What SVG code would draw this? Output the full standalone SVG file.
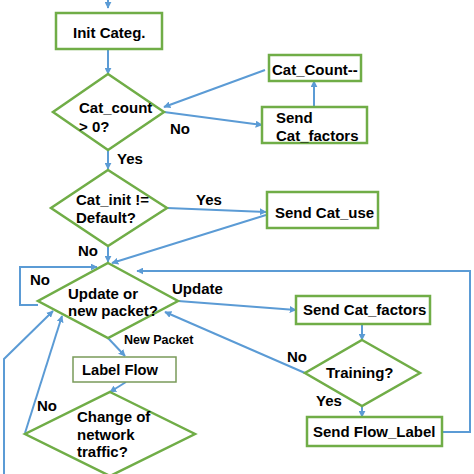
<svg xmlns="http://www.w3.org/2000/svg" width="474" height="474" viewBox="0 0 474 474">
<defs>
<marker id="ah" viewBox="0 0 10 10" refX="9" refY="5" markerWidth="7" markerHeight="7" markerUnits="userSpaceOnUse" orient="auto">
<path d="M0,0 L10,5 L0,10 z" fill="#5b9bd5"/>
</marker>
<style>
.n{fill:#fff;stroke:#70ad47;stroke-width:2.5}
.thin{fill:#fff;stroke:#7a9a5a;stroke-width:1.5}
.c{fill:none;stroke:#5b9bd5;stroke-width:2;marker-end:url(#ah)}
text{font-family:"Liberation Sans",Arial,sans-serif;font-weight:bold;font-size:15px;fill:#000}
.s{font-size:12.5px}
.r{font-size:14.7px}
</style>
</defs>
<g id="connectors">
<path class="c" d="M108,0 V8"/>
<path class="c" d="M108,49 V74"/>
<path class="c" d="M265,70 L164,107"/>
<path class="c" d="M314,107 V81"/>
<path class="c" d="M164,112 L262,125"/>
<path class="c" d="M108,150 V169"/>
<path class="c" d="M167,208 L266,212"/>
<path class="c" d="M108,246 V262"/>
<path class="c" d="M266,215 L112,263"/>
<path class="c" d="M38,305 H20 V267 H97"/>
<path class="c" d="M178,301 L296,310"/>
<path class="c" d="M362,324 V340"/>
<path class="c" d="M305,373 L165,312"/>
<path class="c" d="M362,406 V417"/>
<path class="c" d="M442,432 H470 V271 H137"/>
<path class="c" d="M108,338 L125,356"/>
<path class="c" d="M126,382 L110,392"/>
<path class="c" d="M25,433 L62,316"/>
<path class="c" d="M4,474 V359 L53,311"/>
</g>
<g id="init"><rect class="n" x="56" y="13" width="106" height="36"/><text x="73" y="38">Init Categ.</text></g>
<g id="catcount"><path class="n" d="M108,74 L164,112 L108,150 L53,112 Z"/><text x="79" y="113">Cat_count</text><text x="79" y="132">&gt; 0?</text></g>
<g id="catcountdec"><rect class="n" x="269" y="55" width="92" height="26"/><text x="272" y="75">Cat_Count--</text></g>
<g id="sendcatfactors1"><rect class="n" x="262" y="107" width="105" height="36"/><text x="276" y="123">Send</text><text x="276" y="141">Cat_factors</text></g>
<g id="catinit"><path class="n" d="M108,170 L167,208 L108,246 L51,208 Z"/><text x="76" y="205">Cat_init !=</text><text x="76" y="223">Default?</text></g>
<g id="sendcatuse"><rect class="n" x="267" y="192" width="111" height="36"/><text x="275" y="218">Send Cat_use</text></g>
<g id="update"><path class="n" d="M108,263 L178,301 L108,338 L38,301 Z"/><text x="68" y="299">Update or</text><text x="68" y="316">new packet?</text></g>
<g id="sendcatfactors2"><rect class="n" x="296" y="296" width="134" height="28"/><text x="303" y="315">Send Cat_factors</text></g>
<g id="training"><path class="n" d="M362,340 L420,373 L362,406 L305,373 Z"/><text x="326" y="378">Training?</text></g>
<g id="sendflowlabel"><rect class="n" x="307" y="417" width="135" height="29"/><text x="313" y="437">Send Flow_Label</text></g>
<g id="labelflow"><rect class="thin" x="73" y="357" width="103" height="25"/><text class="r" x="82" y="375">Label Flow</text></g>
<g id="change"><path class="n" d="M110,392 L195,434 L110,476 L25,434 Z"/><text x="77" y="422">Change of</text><text x="77" y="440">network</text><text x="77" y="457">traffic?</text></g>
<g id="labels">
<text x="170" y="134">No</text>
<text x="117" y="164">Yes</text>
<text x="196" y="205">Yes</text>
<text x="78" y="256">No</text>
<text x="30" y="285">No</text>
<text x="172" y="294">Update</text>
<text class="s" x="124" y="344">New Packet</text>
<text x="287" y="362">No</text>
<text x="316" y="406">Yes</text>
<text x="37" y="411">No</text>
</g>
</svg>
